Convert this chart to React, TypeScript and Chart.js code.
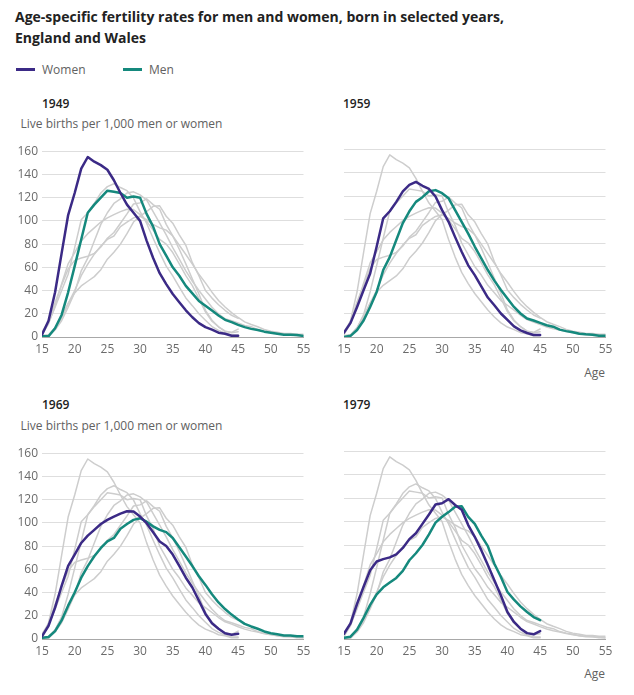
import React, { useEffect, useRef } from "react";
import { Chart, registerables } from "chart.js";

Chart.register(...registerables);

// ---- Data ----
const firstAge = 15;
const xTickValues = [15, 20, 25, 30, 35, 40, 45, 50, 55];
const yTickValues = [0, 20, 40, 60, 80, 100, 120, 140, 160];
const cohortYears = ["1949", "1959", "1969", "1979"];
const seriesNames = ["Women", "Men"];

// women: ages 15-45 ; men: ages 15-55 (1979 men: 15-45)
const women1949 = [2, 14, 38.5, 72, 105, 124, 145, 155, 151, 148, 144, 135, 124, 114, 107, 100, 83, 68, 55, 45.5, 37, 30, 23, 17, 12, 8.5, 6.3, 3.7, 2.8, 1.1, 1.1];
const men1949 = [0.6, 0.6, 7.5, 19, 38.5, 61, 84, 107, 114, 120, 126, 125, 124, 120, 121, 120, 106, 95, 80, 70, 60, 52.7, 44, 37.6, 31, 27, 22.8, 18.5, 14.8, 12.8, 10.5, 8.5, 7, 6, 4.6, 3.7, 2.8, 2, 2, 1.7, 0.9];
const women1959 = [3.7, 12, 25.6, 40, 54, 77, 101, 107, 115, 124, 129.5, 132, 128.7, 126, 119.6, 108, 98, 85, 72.6, 61, 52.7, 43, 33.6, 27, 20, 14.5, 9, 5.7, 3.4, 1.7, 1.7];
const men1959 = [0, 1, 6, 14, 25.6, 38.4, 57, 68, 82.6, 97, 107, 115, 119, 124, 125, 122.4, 118, 108, 98, 88, 77, 67, 57, 48, 40, 32.7, 25.6, 20, 15.7, 14, 12, 10, 8.8, 6.3, 5, 4, 2.8, 2.3, 2, 1.1, 1.1];
const women1969 = [2.3, 11.4, 27, 45.7, 63, 72.7, 82.7, 89, 94, 99, 102.6, 105.4, 108, 110, 109.7, 105.4, 99.7, 92, 84, 80, 72.7, 63, 52.8, 44.3, 33, 21.6, 13.6, 8.8, 5, 3.7, 4.5];
const men1969 = [1, 1.7, 6.8, 16, 28.7, 40, 52.8, 62.8, 71.3, 78.4, 84, 87, 95, 99, 102.6, 104, 101, 97, 94, 92, 87, 79, 71, 62.8, 54, 46.6, 38.6, 31.5, 25.8, 21, 16.8, 13, 10.8, 8.8, 6.5, 5, 4, 3, 3, 2.3, 2.3];
const women1979 = [4.5, 13.3, 30, 44.5, 58.5, 66, 68, 69.5, 72, 77.5, 85, 90, 98, 106, 114.5, 115.5, 119, 114, 110, 97, 87, 75.6, 63, 50, 37, 23, 14.5, 8.8, 5, 4, 6.8];
const men1979 = [1, 2, 8, 18, 29, 38, 44, 48, 52, 58, 67, 73, 80, 89, 99, 104, 108, 112.5, 113, 104, 98, 88, 79, 64, 52.8, 40, 33.5, 27.8, 23, 18.7, 16];

const womenSeries = [women1949, women1959, women1969, women1979];
const menSeries = [men1949, men1959, men1969, men1979];

// ---- Styles ----
const PURPLE = "#3b2a86";
const TEAL = "#15897d";
const GREY = "#cdcdcd";
const FONT = "'Open Sans', 'Noto Sans', sans-serif";

const toPoints = (arr: number[]) => arr.map((v, i) => ({ x: firstAge + i, y: v }));

function Panel({ index, left, top, showY }: { index: number; left: number; top: number; showY: boolean }) {
  const ref = useRef<HTMLCanvasElement | null>(null);
  useEffect(() => {
    if (!ref.current) return;
    const datasets: any[] = [];
    datasets.push({
      label: seriesNames[0],
      data: toPoints(womenSeries[index]),
      borderColor: PURPLE,
      borderWidth: 2.5,
      order: 0,
    });
    datasets.push({
      label: seriesNames[1],
      data: toPoints(menSeries[index]),
      borderColor: TEAL,
      borderWidth: 2.5,
      order: 1,
    });
    cohortYears.forEach((_, j) => {
      if (j === index) return;
      datasets.push({ label: "w" + j, data: toPoints(womenSeries[j]), borderColor: GREY, borderWidth: 1.5, order: 2 });
      datasets.push({ label: "m" + j, data: toPoints(menSeries[j]), borderColor: GREY, borderWidth: 1.5, order: 2 });
    });
    const chart = new Chart(ref.current, {
      type: "line",
      data: { datasets },
      options: {
        animation: false,
        responsive: false,
        layout: { padding: { top: 9, right: 13.5, bottom: 0, left: 0 } },
        plugins: { legend: { display: false }, tooltip: { enabled: false } },
        elements: {
          point: { radius: 0 },
          line: { tension: 0, borderCapStyle: "round", borderJoinStyle: "round", fill: false },
        },
        scales: {
          x: {
            type: "linear",
            min: 15,
            max: 55,
            afterBuildTicks: (s: any) => {
              s.ticks = xTickValues.map((v) => ({ value: v }));
            },
            afterFit: (s: any) => {
              s.height = 30;
            },
            ticks: { padding: 5, color: "#6b6b6b", font: { family: FONT, size: 12 }, maxRotation: 0, autoSkip: false },
            grid: { display: false, drawTicks: false },
            border: { display: true, color: "#a8a8a8", width: 1 },
          },
          y: {
            min: 0,
            max: 160,
            afterBuildTicks: (s: any) => {
              s.ticks = yTickValues.map((v) => ({ value: v }));
            },
            afterFit: (s: any) => {
              s.width = 42;
            },
            ticks: { display: showY, padding: 4, color: "#6b6b6b", font: { family: FONT, size: 12 }, autoSkip: false },
            grid: { color: "#dedede", drawTicks: false, lineWidth: 1 },
            border: { display: false },
          },
        },
      } as any,
    });
    return () => chart.destroy();
  }, [index, showY]);
  return (
    <canvas
      ref={ref}
      width={317}
      height={227}
      style={{ position: "absolute", left, top, width: 317, height: 227 }}
    />
  );
}

const textBase: React.CSSProperties = {
  position: "absolute",
  fontFamily: FONT,
  fontSize: 12,
  lineHeight: "16px",
  whiteSpace: "nowrap",
};

export default function App() {
  const panelTops = [140, 442];
  const panelLefts = [0, 302];
  const labelLefts = [42, 343];
  const rowShift = [0, 301.7];
  return (
    <div style={{ position: "absolute", left: 0, top: 0, width: 634, height: 695, background: "#fff", overflow: "hidden" }}>
      <div
        style={{
          ...textBase,
          left: 15,
          top: 6,
          fontSize: 14,
          lineHeight: "21px",
          fontWeight: 700,
          color: "#222",
          whiteSpace: "normal",
          width: 560,
        }}
      >
        Age-specific fertility rates for men and women, born in selected years,
        <br />
        England and Wales
      </div>
      {/* legend */}
      <div style={{ position: "absolute", left: 16, top: 68, width: 19, height: 2.5, background: PURPLE }} />
      <div style={{ ...textBase, left: 42, top: 61.8, color: "#616161" }}>{seriesNames[0]}</div>
      <div style={{ position: "absolute", left: 123, top: 68, width: 19, height: 2.5, background: TEAL }} />
      <div style={{ ...textBase, left: 149, top: 61.8, color: "#616161" }}>{seriesNames[1]}</div>

      {cohortYears.map((yr, i) => {
        const row = Math.floor(i / 2);
        const col = i % 2;
        return (
          <React.Fragment key={yr}>
            <div style={{ ...textBase, left: labelLefts[col], top: 95.6 + rowShift[row], fontWeight: 600, color: "#222" }}>{yr}</div>
            {col === 0 && (
              <div style={{ ...textBase, left: 20.5, top: 116.3 + rowShift[row], color: "#616161" }}>
                Live births per 1,000 men or women
              </div>
            )}
            {col === 1 && (
              <div style={{ ...textBase, left: 545, width: 60, textAlign: "right", top: 364.6 + rowShift[row], color: "#616161" }}>
                Age
              </div>
            )}
            <Panel index={i} left={panelLefts[col]} top={panelTops[row]} showY={col === 0} />
          </React.Fragment>
        );
      })}
    </div>
  );
}
